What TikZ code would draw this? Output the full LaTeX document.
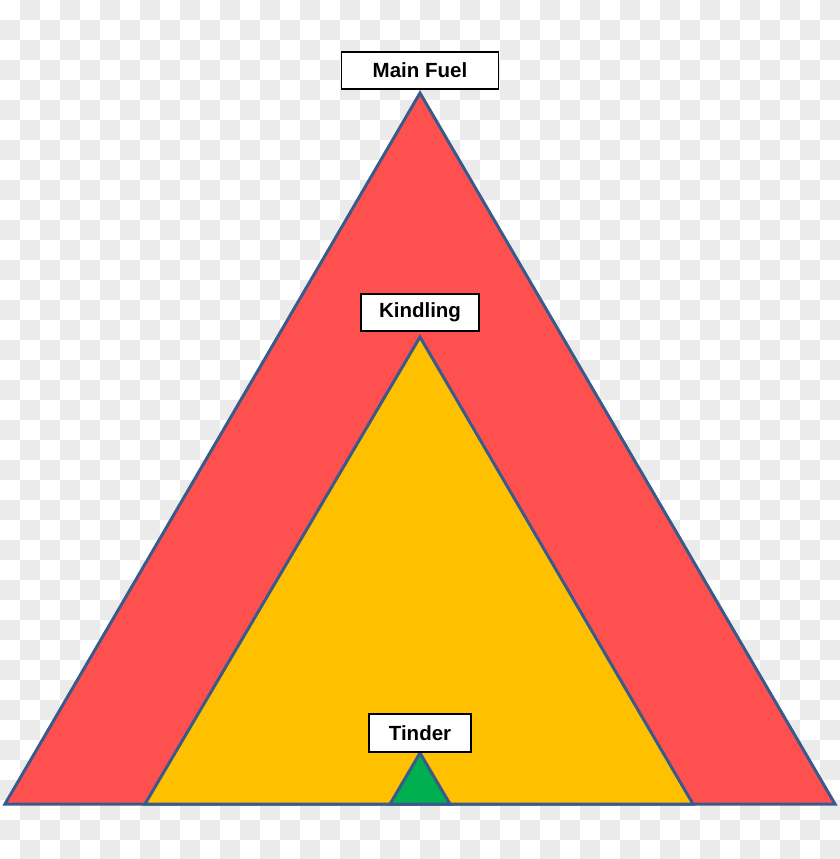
\documentclass[tikz,border=0pt]{standalone}
\usepackage{fontspec}
\setmainfont{Liberation Sans}
\begin{document}
\begin{tikzpicture}[x=1pt,y=-1pt,
  tri/.style={draw=edgeblue,line width=3pt,line join=miter},
  label/.style={draw=black,fill=white,line width=1.5pt,inner sep=0pt,
    font=\fontsize{20.5}{24}\selectfont\bfseries,minimum height=37pt}]
\definecolor{edgeblue}{RGB}{58,90,140}
\definecolor{redfill}{RGB}{255,80,80}
\definecolor{yellowfill}{RGB}{255,192,0}
\definecolor{greenfill}{RGB}{0,176,80}
\definecolor{checker}{RGB}{235,235,235}
\useasboundingbox (0,0) rectangle (840,859);
\fill[white] (0,0) rectangle (840,859);
\foreach \i in {0,...,41}{
  \foreach \j in {0,...,42}{
    \pgfmathparse{int(mod(\i+\j,2))}
    \ifnum\pgfmathresult=1
      \fill[checker] (\i*20,\j*20) rectangle (\i*20+20,\j*20+20);
    \fi
  }
}
% main fuel
\coordinate (mA) at (420,93);
\coordinate (mL) at (5,804);
\coordinate (mR) at (835,804);
\filldraw[tri,fill=redfill] (mA) -- (mR) -- (mL) -- cycle;
% kindling
\coordinate (kA) at (420,337);
\coordinate (kL) at (145,804);
\coordinate (kR) at (693,804);
\filldraw[tri,fill=yellowfill] (kA) -- (kR) -- (kL) -- cycle;
% tinder
\coordinate (tA) at (420,753);
\coordinate (tL) at (390,804);
\coordinate (tR) at (450,804);
\filldraw[tri,fill=greenfill] (tA) -- (tR) -- (tL) -- cycle;
% labels
\node[label,minimum width=157pt] (main) at (420,70.5) {Main Fuel};
\node[label,minimum width=118pt] (kind) at (420,312.5) {Kindling};
\node[label,minimum width=102pt,minimum height=38pt] (tind) at (420,733) {Tinder};
\end{tikzpicture}
\end{document}
